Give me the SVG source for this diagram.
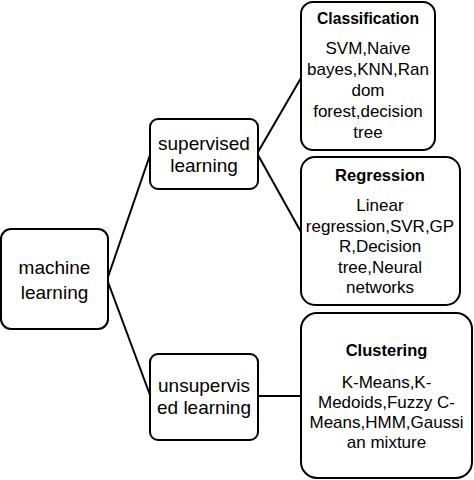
<svg xmlns="http://www.w3.org/2000/svg" width="474" height="480" viewBox="0 0 474 480">
<style>
.box{fill:#fff;stroke:#000;stroke-width:2}
.lbl{font-family:"Liberation Sans",Arial,sans-serif;font-size:19px;text-anchor:middle;fill:#000}
.ttl{font-family:"Liberation Sans",Arial,sans-serif;font-size:16.5px;font-weight:bold;text-anchor:middle;fill:#000}
.txt{font-family:"Liberation Sans",Arial,sans-serif;font-size:17px;text-anchor:middle;fill:#000}
.con{stroke:#000;stroke-width:2;fill:none}
</style>
<rect width="474" height="480" fill="#fff"/>
<g id="connectors">
<line class="con" x1="108" y1="277" x2="150" y2="155"/>
<line class="con" x1="108" y1="282" x2="150" y2="395"/>
<line class="con" x1="258" y1="152" x2="301" y2="78"/>
<line class="con" x1="258" y1="155" x2="301" y2="232"/>
<line class="con" x1="258" y1="396" x2="301" y2="396"/>
</g>
<g id="machine-learning">
<rect class="box" x="1" y="229" width="107" height="100" rx="10"/>
<text class="lbl" x="54.5" y="274">machine</text>
<text class="lbl" x="54.5" y="299">learning</text>
</g>
<g id="supervised">
<rect class="box" x="150" y="119" width="108" height="70" rx="8"/>
<text class="lbl" x="204" y="150">supervised</text>
<text class="lbl" x="204" y="172">learning</text>
</g>
<g id="unsupervised">
<rect class="box" x="150" y="354" width="108" height="86" rx="8"/>
<text class="lbl" x="204" y="392">unsupervis</text>
<text class="lbl" x="204" y="414">ed learning</text>
</g>
<g id="classification">
<rect class="box" x="301" y="2" width="134" height="148" rx="12"/>
<text class="ttl" x="368" y="24" textLength="102" lengthAdjust="spacingAndGlyphs">Classification</text>
<text class="txt" x="368" y="54">SVM,Naive</text>
<text class="txt" x="368" y="75">bayes,KNN,Ran</text>
<text class="txt" x="368" y="96">dom</text>
<text class="txt" x="368" y="117">forest,decision</text>
<text class="txt" x="368" y="138">tree</text>
</g>
<g id="regression">
<rect class="box" x="301" y="157" width="159" height="148" rx="14"/>
<text class="ttl" x="380" y="181">Regression</text>
<text class="txt" x="380" y="211">Linear</text>
<text class="txt" x="380" y="231.5">regression,SVR,GP</text>
<text class="txt" x="380" y="252">R,Decision</text>
<text class="txt" x="380" y="272.5">tree,Neural</text>
<text class="txt" x="380" y="293">networks</text>
</g>
<g id="clustering">
<rect class="box" x="301" y="313" width="171" height="165" rx="16"/>
<text class="ttl" x="386.5" y="356">Clustering</text>
<text class="txt" x="386.5" y="388">K-Means,K-</text>
<text class="txt" x="386.5" y="408">Medoids,Fuzzy C-</text>
<text class="txt" x="386.5" y="428">Means,HMM,Gaussi</text>
<text class="txt" x="386.5" y="448">an mixture</text>
</g>
</svg>
